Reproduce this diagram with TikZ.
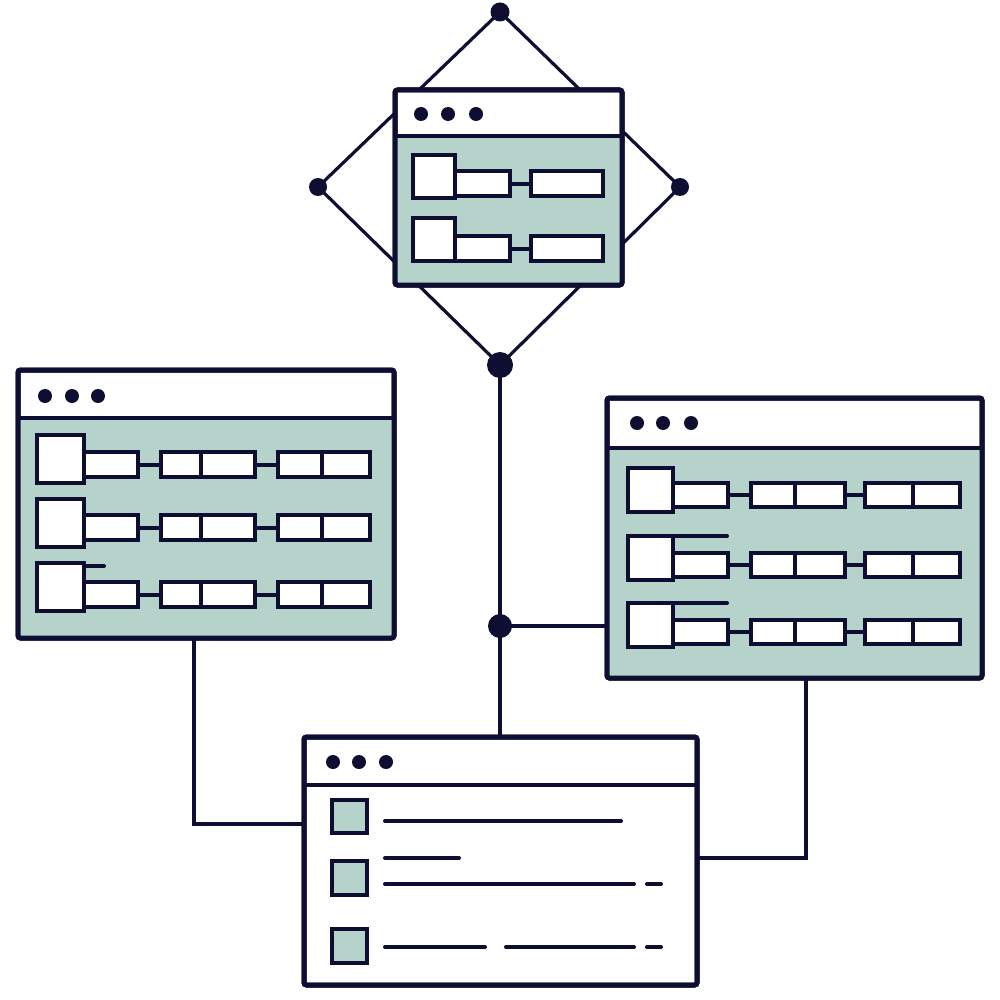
\documentclass[tikz,border=0pt]{standalone}
\definecolor{ink}{RGB}{14,14,50}
\definecolor{sage}{RGB}{181,211,202}
\begin{document}
\begin{tikzpicture}[x=1pt,y=-1pt,
  win/.style={draw=ink,line width=5pt,fill=white,rounded corners=2.5pt,inner sep=0pt,outer sep=0pt},
  outline/.style={draw=ink,line width=5pt,rounded corners=2.5pt},
  barline/.style={draw=ink,line width=4.5pt},
  wdot/.style={circle,fill=ink,minimum size=14pt,inner sep=0pt},
  sq/.style={draw=ink,line width=4.5pt,fill=white},
  gsq/.style={draw=ink,line width=4.5pt,fill=sage},
  cell/.style={draw=ink,line width=3.5pt,fill=white},
  lnk/.style={draw=ink,line width=4pt},
  wire/.style={draw=ink,line width=3.2pt},
  txt/.style={draw=ink,line width=4pt,line cap=round},
  hub/.style={circle,fill=ink,inner sep=0pt}]
\useasboundingbox (0,0) rectangle (1000,1000);
\fill[white] (0,0) rectangle (1000,1000);

% diamond hub
\node[hub,minimum size=19pt] (D1) at (500,12) {};
\node[hub,minimum size=18pt] (D2) at (318,187) {};
\node[hub,minimum size=18pt] (D3) at (680,187) {};
\node[hub,minimum size=26pt] (D4) at (500,365) {};
\node[hub,minimum size=24pt] (J) at (500,626) {};
\draw[wire] (D1.center) -- (D2.center) -- (D4.center) -- (D3.center) -- cycle;

% windows
\node[win,minimum width=227pt,minimum height=195pt] (T) at (508.5,187.5) {};
\node[win,minimum width=376pt,minimum height=268pt] (L) at (206,504) {};
\node[win,minimum width=375pt,minimum height=280pt] (R) at (794.5,538) {};
\node[win,minimum width=393pt,minimum height=248pt] (B) at (500.5,861) {};

% connectors
\draw[wire] (D4.center) -- (J.center);
\draw[wire] (J.center) -- (B.north -| J.center);
\draw[wire] (J.center) -- (R.west |- J.center);
\draw[wire] ([xshift=176pt]L.south west) |- ([yshift=37pt]B.west);
\draw[wire] ([xshift=199pt]R.south west) |- ([yshift=3pt]B.east);

% bodies
\fill[sage] (397,136) rectangle (620,283);
\draw[barline] (395,136) -- (622,136);
\draw[outline] (T.north west) rectangle (T.south east);
\fill[sage] (20,418) rectangle (392,636);
\draw[barline] (18,418) -- (394,418);
\draw[outline] (L.north west) rectangle (L.south east);
\fill[sage] (609,448) rectangle (980,676);
\draw[barline] (607,448) -- (982,448);
\draw[outline] (R.north west) rectangle (R.south east);
\draw[barline] (304,785) -- (697,785);
\draw[outline] (B.north west) rectangle (B.south east);

% title dots
\foreach \x in {421,448,476} \node[wdot] (tdT\x) at (\x,114) {};
\foreach \x in {45,72,98} \node[wdot] (tdL\x) at (\x,396) {};
\foreach \x in {637,663,691} \node[wdot] (tdR\x) at (\x,423) {};
\foreach \x in {333,359,386} \node[wdot] (tdB\x) at (\x,762) {};

% top window rows
\foreach \s/\r in {155/171,218/236}{
  \draw[lnk] (510,{\r+13}) -- (531,{\r+13});
  \draw[cell] (455,\r) rectangle (510,{\r+25});
  \draw[cell] (531,\r) rectangle (603,{\r+25});
  \draw[sq] (413,\s) rectangle (455,{\s+43});
}

% left window rows
\foreach \s/\r in {435/452,499/515,563/582}{
  \draw[lnk] (138,{\r+12.5}) -- (161,{\r+12.5});
  \draw[lnk] (255,{\r+12.5}) -- (278,{\r+12.5});
  \draw[cell] (84,\r) rectangle (138,{\r+25});
  \draw[cell] (161,\r) rectangle (255,{\r+25});
  \draw[cell] (201,\r) -- (201,{\r+25});
  \draw[cell] (278,\r) rectangle (370,{\r+25});
  \draw[cell] (322,\r) -- (322,{\r+25});
  \draw[sq] (37,\s) rectangle (84,{\s+48});
}
\draw[txt] (86,566) -- (104,566);

% right window rows
\foreach \s/\r in {468/483,536/553,603/620}{
  \draw[lnk] (728,{\r+12}) -- (751,{\r+12});
  \draw[lnk] (845,{\r+12}) -- (865,{\r+12});
  \draw[cell] (673,\r) rectangle (728,{\r+24});
  \draw[cell] (751,\r) rectangle (845,{\r+24});
  \draw[cell] (795,\r) -- (795,{\r+24});
  \draw[cell] (865,\r) rectangle (960,{\r+24});
  \draw[cell] (913,\r) -- (913,{\r+24});
  \draw[sq] (628,\s) rectangle (673,{\s+44});
}
\draw[txt] (673,536) -- (727,536);
\draw[txt] (673,603) -- (727,603);

% bottom window list
\draw[gsq] (332,800) rectangle (367,833);
\draw[gsq] (332,861) rectangle (367,895);
\draw[gsq] (332,929) rectangle (367,963);
\draw[txt] (385,821) -- (621,821);
\draw[txt] (385,858) -- (459,858);
\draw[txt] (385,884) -- (634,884);
\draw[txt] (647,884) -- (661,884);
\draw[txt] (385,947) -- (485,947);
\draw[txt] (506,947) -- (634,947);
\draw[txt] (647,947) -- (661,947);
\end{tikzpicture}
\end{document}
